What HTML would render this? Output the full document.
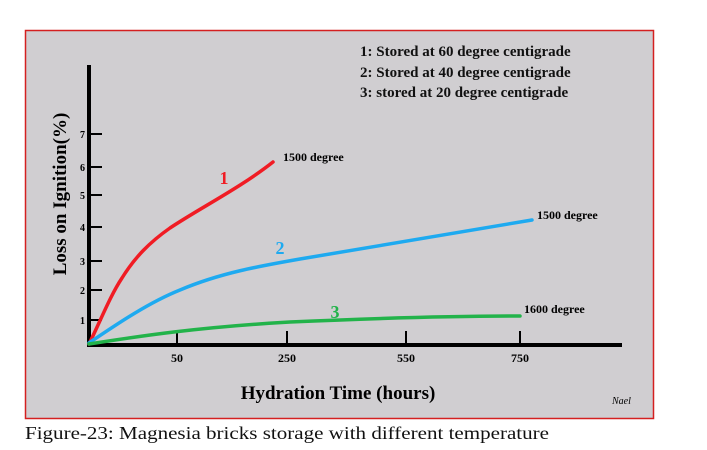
<!DOCTYPE html>
<html><head><style>
body{margin:0;width:707px;height:450px;background:#fff;overflow:hidden}
svg{display:block}
text{font-family:"Liberation Serif",serif}
</style></head><body>
<svg width="707" height="450" xmlns="http://www.w3.org/2000/svg">
<rect x="25.5" y="30.5" width="628" height="388" fill="#d0ced1" stroke="#d42020" stroke-width="1.5"/>
<g font-weight="bold" font-size="15" fill="#111">
<text x="360" y="56">1: Stored at 60 degree centigrade</text>
<text x="360" y="77">2: Stored at 40 degree centigrade</text>
<text x="360" y="97">3: stored at 20 degree centigrade</text>
</g>
<g stroke="#000" fill="none">
<line x1="89" y1="65" x2="89" y2="347" stroke-width="4"/>
<line x1="87" y1="345" x2="622" y2="345" stroke-width="4"/>
<g stroke-width="2">
<line x1="89" y1="134" x2="102" y2="134"/><line x1="89" y1="167" x2="102" y2="167"/>
<line x1="89" y1="195" x2="102" y2="195"/><line x1="89" y1="227" x2="102" y2="227"/>
<line x1="89" y1="261" x2="102" y2="261"/><line x1="89" y1="290" x2="102" y2="290"/>
<line x1="89" y1="320" x2="102" y2="320"/>
<line x1="177" y1="331" x2="177" y2="345"/><line x1="287" y1="331" x2="287" y2="345"/>
<line x1="406" y1="331" x2="406" y2="345"/><line x1="520" y1="331" x2="520" y2="345"/>
</g></g>
<g font-weight="bold" font-size="10" text-anchor="end">
<text x="85" y="138">7</text><text x="85" y="171">6</text><text x="85" y="199">5</text>
<text x="85" y="231">4</text><text x="85" y="265">3</text><text x="85" y="294">2</text><text x="85" y="324">1</text>
</g>
<g font-weight="bold" font-size="12" text-anchor="middle">
<text x="177" y="362">50</text><text x="287" y="362">250</text>
<text x="406" y="362">550</text><text x="520" y="362">750</text>
</g>
<text x="338" y="399" font-weight="bold" font-size="19" text-anchor="middle">Hydration Time (hours)</text>
<text transform="translate(66,194) rotate(-90)" font-weight="bold" font-size="19" text-anchor="middle">Loss on Ignition(%)</text>
<g fill="none" stroke-width="3.5" stroke-linecap="round">
<path d="M89,344 C100,322 110,296 122,278 C135,257 150,242 170,228 C200,208 240,188 273,162" stroke="#f01c24"/>
<path d="M89,343 C120,322 150,302 180,290 C220,273 260,266 300,259 C380,245 460,232 532,220" stroke="#1eaaf0"/>
<path d="M89,344 C140,336 200,327 290,322 C380,318 450,316 520,316" stroke="#22b34a"/>
</g>
<text x="224" y="184" fill="#f01c24" font-weight="bold" font-size="18" text-anchor="middle">1</text>
<text x="280" y="254" fill="#1eaaf0" font-weight="bold" font-size="18" text-anchor="middle">2</text>
<text x="335" y="318" fill="#22b34a" font-weight="bold" font-size="18" text-anchor="middle">3</text>
<g font-weight="bold" font-size="12">
<text x="283" y="161">1500 degree</text>
<text x="537" y="219">1500 degree</text>
<text x="524" y="313">1600 degree</text>
</g>
<text x="612" y="404" font-style="italic" font-size="10">Nael</text>
<text x="25" y="439" font-size="18" fill="#111" textLength="524" lengthAdjust="spacingAndGlyphs">Figure-23: Magnesia bricks storage with different temperature</text>
</svg>
</body></html>
